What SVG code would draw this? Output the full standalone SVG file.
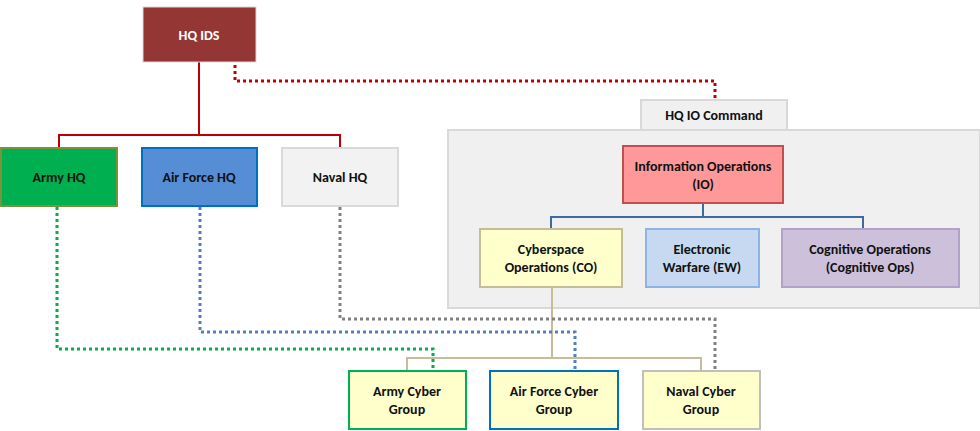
<svg xmlns="http://www.w3.org/2000/svg" width="980" height="431" viewBox="0 0 980 431">
<style>
text{font-family:Calibri,"Liberation Sans",Arial,sans-serif;font-weight:bold;font-size:14px;fill:#111;text-anchor:middle}
.w{fill:#fff}
.n{stroke-width:2}
.c{fill:none;stroke-width:2}
.d{fill:none;stroke-width:3;stroke-dasharray:3 3}
</style>
<rect width="980" height="431" fill="#fff"/>
<g id="ioc"><rect x="448" y="130" width="532" height="178" fill="#F0F0F0" stroke="#D9D9D9" stroke-width="2"/>
<rect x="641" y="100" width="146" height="30" fill="#F0F0F0" stroke="#D9D9D9" stroke-width="2"/><text x="714" y="120">HQ IO Command</text></g>
<g id="connectors">
<path class="c" stroke="#C00000" d="M199 62V135M59 148V135H340V148"/>
<path class="d" stroke="#C00000" d="M235 53V81H715V100"/>
<path class="c" stroke="#3F6AA0" d="M703 203V217M551 229V217H863V229"/>
<path class="c" stroke="#C4BD97" d="M552 287V358M407 371V358H701V371"/>
<path class="d" stroke="#00B050" d="M57 207V349H433V370"/>
<path class="d" stroke="#4F81BD" d="M200 207V332H575V370"/>
<path class="d" stroke="#808080" d="M340 207V319H715V370"/>
</g>
<g id="hqids"><rect x="143" y="7" width="113" height="55" fill="#943634" stroke="#D9D9D9"/><text class="w" x="199" y="40">HQ IDS</text></g>
<g id="army"><rect class="n" x="1" y="148" width="116" height="58" fill="#00B050" stroke="#77933C"/><text x="59" y="182">Army HQ</text></g>
<g id="af"><rect class="n" x="142" y="148" width="115" height="58" fill="#558ED5" stroke="#0070C0"/><text x="199" y="182">Air Force HQ</text></g>
<g id="naval"><rect class="n" x="282" y="148" width="116" height="58" fill="#F2F2F2" stroke="#D9D9D9"/><text x="340" y="182">Naval HQ</text></g>
<g id="io"><rect class="n" x="623" y="146" width="160" height="57" fill="#FF9999" stroke="#C0504D"/><text x="703" y="171">Information Operations</text><text x="703" y="189">(IO)</text></g>
<g id="co"><rect class="n" x="480" y="229" width="142" height="58" fill="#FFFFCC" stroke="#C4BD97"/><text x="551" y="254">Cyberspace</text><text x="551" y="272">Operations (CO)</text></g>
<g id="ew"><rect class="n" x="646" y="229" width="113" height="58" fill="#C6D9F1" stroke="#8DB4E2"/><text x="702" y="254">Electronic</text><text x="702" y="272">Warfare (EW)</text></g>
<g id="cog"><rect class="n" x="782" y="229" width="177" height="58" fill="#CCC0DA" stroke="#B3A2C7"/><text x="870" y="254">Cognitive Operations</text><text x="870" y="272">(Cognitive Ops)</text></g>
<g id="acg"><rect class="n" x="349" y="371" width="117" height="58" fill="#FFFFCC" stroke="#00B050"/><text x="407" y="396">Army Cyber</text><text x="407" y="414">Group</text></g>
<g id="afcg"><rect class="n" x="490" y="371" width="128" height="58" fill="#FFFFCC" stroke="#0070C0"/><text x="554" y="396">Air Force Cyber</text><text x="554" y="414">Group</text></g>
<g id="ncg"><rect class="n" x="643" y="371" width="117" height="58" fill="#FFFFCC" stroke="#BFBFBF"/><text x="701" y="396">Naval Cyber</text><text x="701" y="414">Group</text></g>
</svg>
